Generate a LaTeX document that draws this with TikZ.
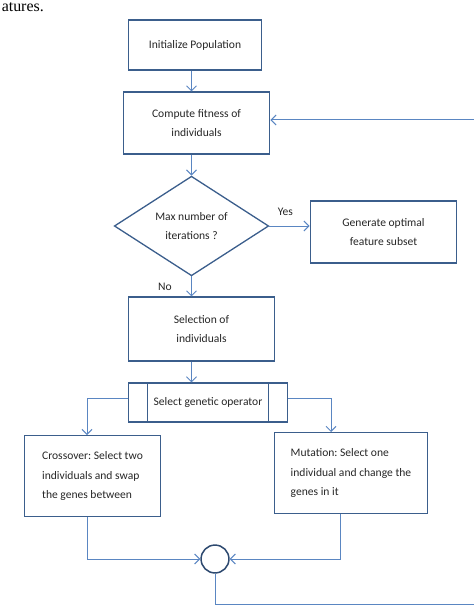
\documentclass[tikz,border=0pt]{standalone}
\usepackage{fontspec}
\setmainfont{Carlito}
\newfontfamily\capfont{Liberation Serif}
\frenchspacing
\usetikzlibrary{arrows.meta}
\usetikzlibrary{positioning}
\usetikzlibrary{shapes.geometric}
\definecolor{boxline}{HTML}{3B5E8C}
\definecolor{flowline}{HTML}{5A86C2}
\definecolor{joinline}{HTML}{2E4A70}
\definecolor{ink}{HTML}{262626}
\tikzset{box/.style = {draw=boxline, line width=1.3bp, rectangle, inner sep=0pt,
                       align=center, text=ink,
                       font=\fontsize{11.6}{19.5}\selectfont}}
\tikzset{flow/.style = {draw=flowline, line width=1bp,
                        -{Straight Barb[length=5bp, width=10bp]}}}
\tikzset{tag/.style = {text=ink, font=\fontsize{11.6}{13}\selectfont}}

\begin{document}
\begin{tikzpicture}[x=1bp, y=-1bp]
      \useasboundingbox (0, 0) rectangle (474, 606);
      \clip (0, 0) rectangle (474, 606);
      \node [anchor=base east, inner sep=0pt, font=\capfont\fontsize{16}{16}\selectfont] (cap) at (44, 12) {atures.};

      \node [box, minimum width=134, minimum height=50] (init) at (195, 45) {Initialize Population};
      \node [box, minimum width=147, minimum height=62] (fit) at (196.5, 123) {Compute fitness of\\individuals};
      \node [box, diamond, aspect=1.55, minimum width=155, minimum height=100] (iter) at (191.5, 226) {Max number of\\iterations ?};
      \node [box, minimum width=147, minimum height=62] (gen) at (383.5, 232) {Generate optimal\\feature subset};
      \node [box, minimum width=147, minimum height=64] (sel) at (201.5, 329) {Selection of\\individuals};
      \node [box, minimum width=160, minimum height=39] (op) at (208, 402.5) {Select genetic operator};
      \draw [boxline, line width=1.3bp] ([xshift=20bp]op.north west) -- ([xshift=20bp]op.south west);
      \draw [boxline, line width=1.3bp] ([xshift=-20bp]op.north east) -- ([xshift=-20bp]op.south east);
      \node [box, minimum width=137, minimum height=81, align=left] (cross) at (92.5, 476) {Crossover: Select two\\individuals and swap\\the genes between};
      \node [box, minimum width=154, minimum height=81, align=left] (mut) at (351, 473) {Mutation: Select one\\individual and change the\\genes in it};
      \node [draw=joinline, line width=1.5bp, circle, minimum size=28, inner sep=0pt] (join) at (215, 559) {};
      \coordinate (edge) at (480, 604);

      \draw [flow] (init.south -| iter.north) -- (fit.north -| iter.north);
      \draw [flow] (fit.south -| iter.north) -- (iter.north);
      \draw [flow] (iter.east) -- node [tag, above=7bp, pos=0.4] (yes) {Yes} (iter.east -| gen.west);
      \draw [flow] (iter.south) -- node [tag, left=16bp] (no) {No} (iter.south |- sel.north);
      \draw [flow] (sel.south -| iter.north) -- (op.north -| iter.north);
      \draw [flow] ([yshift=4.5bp]op.west) -| ([xshift=-5.5bp]cross.north);
      \draw [flow] ([yshift=4.5bp]op.east) -| ([xshift=-20bp]mut.north);
      \draw [flow] ([xshift=-5.5bp]cross.south) |- (join.west);
      \draw [flow] ([xshift=-11bp]mut.south) |- (join.east);
      \draw [flow] (join.south) |- (edge) |- ([yshift=3bp]fit.east);
    \end{tikzpicture}
\end{document}
